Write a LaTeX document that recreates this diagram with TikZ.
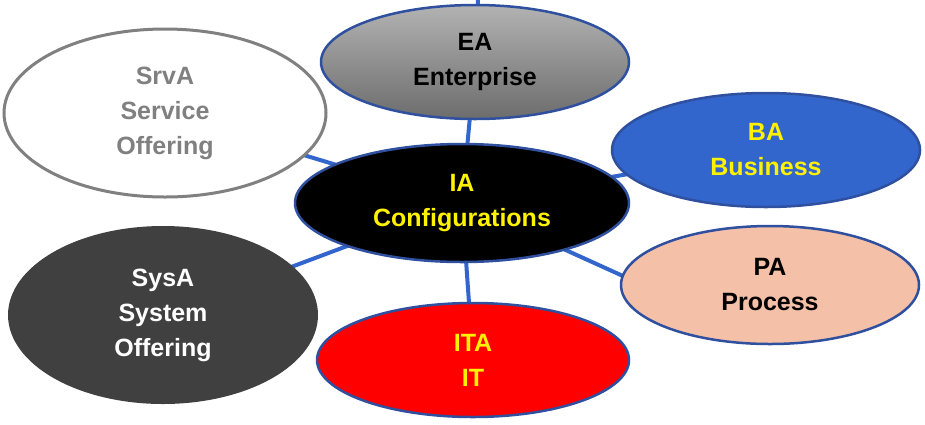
\documentclass[tikz,border=0pt]{standalone}
\usepackage{fontspec}
\setmainfont{Liberation Sans}
\usetikzlibrary{shapes.geometric}
\begin{document}
\begin{tikzpicture}[x=1pt,y=-1pt,
  ell/.style={ellipse,draw=bordblue,line width=2.5pt,inner sep=0pt,font=\bfseries\fontsize{25}{35}\selectfont,align=center},
  conn/.style={draw=linkblue,line width=4pt}]
\definecolor{bordblue}{HTML}{2F4F9F}
\definecolor{linkblue}{HTML}{3366CC}
\definecolor{peach}{HTML}{F4C0A8}
\definecolor{dgray}{HTML}{404040}
\useasboundingbox (0,0) rectangle (925,424);
\coordinate (ia) at (462,203);
\coordinate (top) at (478,0);
\coordinate (pac) at (720,320);
\draw[conn] (ia) -- (475,62) -- (top);
\draw[conn] (ia) -- (165,113);
\draw[conn] (ia) -- (766,150);
\draw[conn] (ia) -- (pac);
\draw[conn] (ia) -- (163,315);
\draw[conn] (ia) -- (473,360);
\node[ell,top color=gray!60,bottom color=gray!85!black,minimum width=308pt,minimum height=114pt] (ea) at (475,62) {EA\\Enterprise};
\node[ell,draw=gray,line width=3pt,fill=white,text=gray,minimum width=322pt,minimum height=168pt] (srva) at (165,113) {SrvA\\Service\\Offering};
\node[ell,fill=linkblue,text=yellow,minimum width=308pt,minimum height=114pt] (ba) at (766,150) {BA\\Business};
\node[ell,fill=peach,minimum width=298pt,minimum height=118pt] (pa) at (770,285) {PA\\Process};
\node[ell,draw=none,fill=dgray,text=white,minimum width=310pt,minimum height=178pt] (sysa) at (163,315) {SysA\\System\\Offering};
\node[ell,fill=red,text=yellow,minimum width=312pt,minimum height=114pt] (ita) at (473,360) {ITA\\IT};
\node[ell,fill=black,text=yellow,minimum width=334pt,minimum height=118pt] (ian) at (ia) {IA\\Configurations};
\end{tikzpicture}
\end{document}
